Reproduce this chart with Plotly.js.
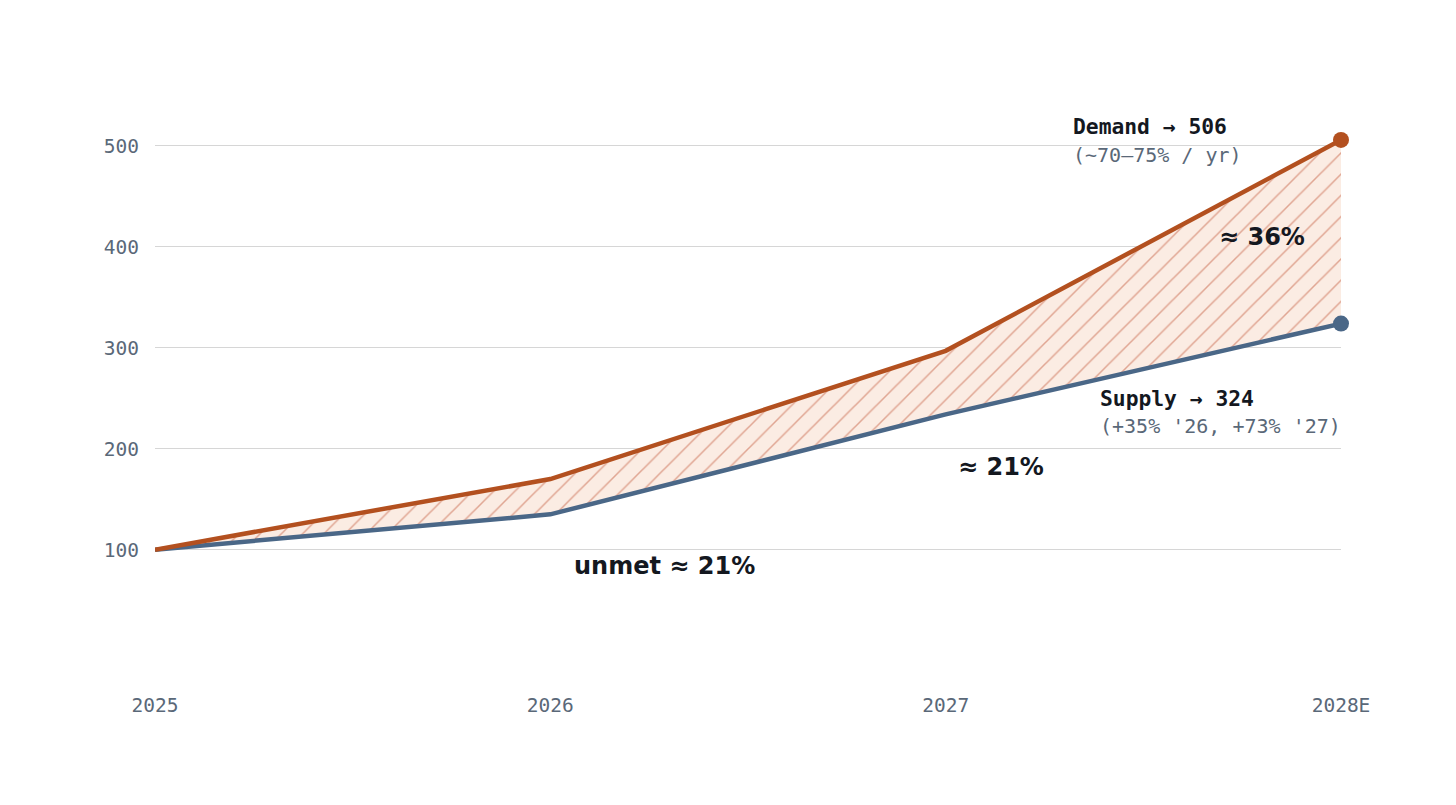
<!DOCTYPE html>
<html>
<head>
<meta charset="utf-8">
<script src="https://cdn.plot.ly/plotly-3.0.1.min.js"></script>
<style>html,body{margin:0;padding:0;background:#fff;}#chart{width:1456px;height:805px;}</style>
</head>
<body>
<div id="chart"></div>
<script>
const years = ["2025", "2026", "2027", "2028E"];
const demand = [100, 170, 297, 506];
const supply = [100, 135, 234, 324];
const yTicks = [100, 200, 300, 400, 500];

const demandColor = "#b3501f";
const supplyColor = "#4a6787";
const endMarker = [0, 0, 0, 16];

const traces = [
  {x: years, y: supply, type: "scatter", mode: "lines", line: {width: 0, color: supplyColor}, hoverinfo: "skip", showlegend: false},
  {x: years, y: demand, type: "scatter", mode: "lines", fill: "tonexty",
   fillcolor: "#fbebe2",
   fillpattern: {shape: "/", fgcolor: "#e0a592", bgcolor: "#fbece3", size: 15, solidity: 0.1},
   line: {width: 0, color: demandColor}, hoverinfo: "skip", showlegend: false},
  {x: years, y: supply, type: "scatter", mode: "lines+markers", line: {width: 4.5, color: supplyColor},
   marker: {size: endMarker, color: supplyColor, opacity: 1, line: {width: 0}}, cliponaxis: false, showlegend: false},
  {x: years, y: demand, type: "scatter", mode: "lines+markers", line: {width: 4.5, color: demandColor},
   marker: {size: endMarker, color: demandColor, opacity: 1, line: {width: 0}}, cliponaxis: false, showlegend: false}
];

const mono = "DejaVu Sans Mono, monospace";
const sans = "DejaVu Sans, sans-serif";
const dark = "#14181f";
const grey = "#5a6878";

const annotations = [
  {x: 2.317, y: 519, xref: "x", yref: "y", text: "<b>Demand → 506</b>", showarrow: false, xanchor: "left", yanchor: "middle", font: {family: mono, size: 21.3, color: dark}},
  {x: 2.317, y: 491, xref: "x", yref: "y", text: "(~70–75% / yr)", showarrow: false, xanchor: "left", yanchor: "middle", font: {family: mono, size: 20, color: grey}},
  {x: 2.385, y: 249.5, xref: "x", yref: "y", text: "<b>Supply → 324</b>", showarrow: false, xanchor: "left", yanchor: "middle", font: {family: mono, size: 21.3, color: dark}},
  {x: 2.385, y: 223, xref: "x", yref: "y", text: "(+35% '26, +73% '27)", showarrow: false, xanchor: "left", yanchor: "middle", font: {family: mono, size: 20, color: grey}},
  {x: 1.290, y: 84, xref: "x", yref: "y", text: "<b>unmet ≈ 21%</b>", showarrow: false, xanchor: "center", yanchor: "middle", font: {family: sans, size: 24, color: dark}},
  {x: 2.140, y: 182, xref: "x", yref: "y", text: "<b>≈ 21%</b>", showarrow: false, xanchor: "center", yanchor: "middle", font: {family: sans, size: 24, color: dark}},
  {x: 2.800, y: 410, xref: "x", yref: "y", text: "<b>≈ 36%</b>", showarrow: false, xanchor: "center", yanchor: "middle", font: {family: sans, size: 24, color: dark}}
];

const layout = {
  width: 1456, height: 805,
  paper_bgcolor: "#ffffff", plot_bgcolor: "#ffffff",
  margin: {l: 155, r: 115, t: 45, b: 114},
  showlegend: false,
  xaxis: {type: "category", range: [0, 3], showgrid: false, zeroline: false, showline: false,
          ticks: "", tickfont: {family: mono, size: 19.5, color: grey}, fixedrange: true},
  yaxis: {range: [-40, 600], tickvals: yTicks, ticktext: yTicks.map(String), showgrid: true, gridcolor: "#d6d6d6", gridwidth: 1,
          zeroline: false, showline: false, ticks: "", tickfont: {family: mono, size: 19.5, color: grey}, ticklabelstandoff: 15},
  annotations: annotations
};

Plotly.newPlot("chart", traces, layout, {displayModeBar: false, staticPlot: true});
</script>
</body>
</html>
